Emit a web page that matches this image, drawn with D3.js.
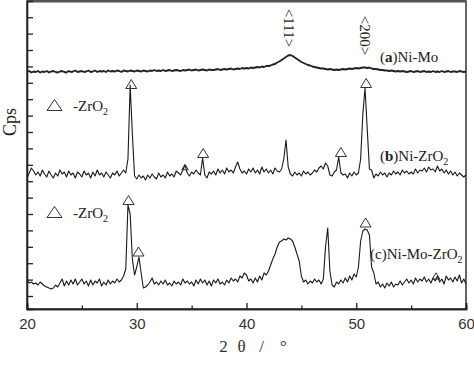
<!DOCTYPE html>
<html><head><meta charset="utf-8">
<script src="https://cdn.jsdelivr.net/npm/d3@7"></script>
<style>
body{margin:0;background:#fff;}
svg{display:block;}
</style></head>
<body>
<svg id="chart" width="474" height="381"></svg>
<script>
// 2θ grid (degrees), 0.2° step
const twoTheta = d3.range(0, 201).map(i => +(20 + i * 0.2).toFixed(1));

// (a) Ni-Mo intensities (arb. Cps)
const seriesA = [
237,238,236.5,237.5,237, 238,236.5,237.5,237,238, 236.5,237.5,238,237,236.5, 237.5,238,237,236.5,238,
237,237.5,238.5,237,237.5, 238,237,237.5,238.5,237, 237.5,238.5,237,238,237.5, 238,237,238.5,237.5,238,
237.5,238.5,238,237,238.5, 238,237.5,238.5,238,237.5, 238.5,238,237.5,238.5,238, 237.5,238.5,238,239,238,
238.5,238,239,238,238.5, 239,238,238.5,239,238.5, 238,239,238.5,239,239.5, 238.5,239,239.5,238.5,239,
239.5,239,238.5,239.5,239, 239,239.5,240,239,239.5, 240,239.5,240,240.5,239.5, 240,240.5,240,241,240.5,
241,240.5,241.5,241,241.5, 242,241.5,242.5,242,243, 243,243.5,244.5,245,246.5, 247.5,249,250.5,252,253.5,
254,253,251.5,250,248.5, 247,246,245,244,243.5, 242.5,242,241.5,241,240.5, 240.5,240,239.5,240,239.5,
239,239.5,239,239.5,240, 239.5,240,240.5,240,240.5, 241,240.5,241,241.5,241.5, 241,241.5,240.5,240,240,
239.5,239,239,238.5,238.5, 238,238.5,238,237.5,238, 237.5,238,237.5,237,237.5, 238,237,237.5,238,237,
237.5,238,237,237.5,237, 238,237,237.5,237,238, 237,237.5,238,237,237.5, 237.5,237,238,237.5,237,
237.5];

// (b) Ni-ZrO2
const seriesB = [
131,136,141,138,134, 137,133,139,135,132, 138,134,131,136,133, 139,135,137,132,138,
134,136,131,137,135, 132,138,134,136,131, 137,133,139,134,136, 132,137,134,131,136,
134,138,133,136,139, 136,150,224,175,133, 130,134,131,133,129, 134,131,135,132,130,
136,132,134,131,137, 133,135,132,138,136, 134,139,144,136,133, 137,135,139,136,134,
151,134,131,137,135, 138,134,140,136,139, 135,141,137,139,136, 142,147,140,136,138,
135,140,137,141,136, 139,135,142,137,140, 136,139,135,141,138, 137,140,150,169,142,
135,133,137,134,136, 133,138,135,137,134, 136,139,137,141,143, 140,146,143,134,133,
137,139,152,136,134, 135,131,136,133,137, 134,136,150,195,221, 180,140,139,131,135,
133,137,134,136,132, 136,134,138,135,137, 134,139,136,138,135, 137,135,140,136,139,
138,141,137,142,139, 140,137,143,138,140, 136,139,135,138,134, 137,133,136,134,132,
134];

// (c) Ni-Mo-ZrO2
const seriesC = [
29,26,27,25,26, 24,27,25,23,22, 21,20,21,24,22, 26,30,23,28,24,
29,25,30,24,27, 30,25,28,23,29, 24,28,26,30,23, 27,24,29,25,28,
26,30,27,29,33, 40,104,95,50,34, 42,52,36,21,22, 24,27,31,25,27,
24,28,25,29,24, 26,23,28,25,27, 24,30,26,28,25, 27,23,29,25,30,
26,29,24,28,23, 29,26,30,25,27, 24,29,26,31,28, 30,27,33,31,36,
34,28,30,26,31, 27,33,29,36,34, 38,44,50,55,62, 67,68,70,69,71,
70,68,62,55,48, 33,27,29,25,28, 26,30,27,29,25, 30,62,81,38,24,
22,27,25,29,26, 31,27,33,29,35, 32,42,68,78,80, 79,74,42,36,25,
27,22,25,21,26, 23,27,22,25,24, 28,24,27,30,26, 29,25,31,27,30,
28,32,27,30,26, 31,28,33,27,30, 25,33,29,31,27, 32,28,34,26,30,
25];

// ZrO2 peak markers: [2θ, intensity, size]
const markersB = [[29.5,225,1],[34.4,142,0.6],[36.05,156,1],[48.6,157,1],[50.9,226,1]];
const markersC = [[29.25,109,1],[30.16,57.5,1],[50.85,86.5,1],[57.27,33,0.7]];

const xTicksMajor = [20,30,40,50,60];
const xTicksMinor = [25,35,45,55];
const yTicks = d3.range(13, 300, 16.4);

const svg = d3.select("#chart");
const L = 27, R = 466, T = 1, B = 309;
const x = d3.scaleLinear().domain([20,60]).range([L,R]);
const y = d3.scaleLinear().domain([0,308]).range([B,T]);

const ink = "#1a1a1a";
const serif = "'Liberation Serif','Times New Roman',serif";
const sans = "'Liberation Sans',Arial,sans-serif";

// frame
svg.append("rect").attr("x",L).attr("y",T).attr("width",R-L).attr("height",B-T)
  .attr("fill","none").attr("stroke","#333").attr("stroke-width",1.5);
svg.append("line").attr("x1",L).attr("x2",R).attr("y1",1).attr("y2",1)
  .attr("stroke","#555").attr("stroke-width",3);

// axes
const gxMaj = svg.append("g").attr("transform",`translate(0,${B})`)
  .call(d3.axisBottom(x).tickValues(xTicksMajor).tickSize(-6).tickPadding(9).tickFormat(d3.format("d")));
const gxMin = svg.append("g").attr("transform",`translate(0,${B})`)
  .call(d3.axisBottom(x).tickValues(xTicksMinor).tickSize(-3.5).tickFormat(""));
const gy = svg.append("g").attr("transform",`translate(${L},0)`)
  .call(d3.axisLeft(y).tickValues(yTicks).tickSize(-6).tickFormat(""));
[gxMaj,gxMin,gy].forEach(g=>{
  g.select(".domain").attr("stroke","#222").attr("stroke-width",1.6);
  g.selectAll(".tick line").attr("stroke","#222").attr("stroke-width",1.3);
});
gxMaj.selectAll(".tick text").attr("font-family",sans).attr("font-size",15).attr("fill","#333");

// series lines
const line = d3.line().x((d,i)=>x(twoTheta[i])).y(d=>y(d));
svg.append("path").datum(seriesA).attr("d",line).attr("fill","none")
  .attr("stroke","#222").attr("stroke-width",1.8).attr("stroke-linejoin","round");
svg.append("path").datum(seriesB).attr("d",line).attr("fill","none")
  .attr("stroke",ink).attr("stroke-width",1.1).attr("stroke-linejoin","round");
svg.append("path").datum(seriesC).attr("d",line).attr("fill","none")
  .attr("stroke",ink).attr("stroke-width",1.1).attr("stroke-linejoin","round");

// triangles
function tri(cx, cy, w, h){
  return `M${cx-w/2},${cy+h/2}L${cx},${cy-h/2}L${cx+w/2},${cy+h/2}Z`;
}
svg.append("g").selectAll("path").data(markersB.concat(markersC)).join("path")
  .attr("d",d=>tri(x(d[0]), y(d[1]), 11*d[2], 9*d[2]))
  .attr("fill","none").attr("stroke","#333").attr("stroke-width",1);

// legends "△ -ZrO2"
[105, 212].forEach(cy=>{
  svg.append("path").attr("d",tri(54.5, cy, 15, 11)).attr("fill","none")
    .attr("stroke","#333").attr("stroke-width",1);
  const t = svg.append("text").attr("x",73).attr("y",cy+6)
    .attr("font-family",serif).attr("font-size",15).attr("fill","#222");
  t.append("tspan").text("-ZrO");
  t.append("tspan").attr("font-size",10).attr("dy",4).text("2");
});

// series labels
function label(xp, yp, letter, rest, sub){
  const t = svg.append("text").attr("x",xp).attr("y",yp)
    .attr("font-family",serif).attr("font-size",15).attr("fill","#222");
  t.append("tspan").text("(");
  t.append("tspan").attr("font-weight", letter==="c" ? "normal" : "bold").text(letter);
  t.append("tspan").text(")" + rest);
  if(sub) t.append("tspan").attr("font-size",10).attr("dy",4).text(sub);
}
label(380, 62, "a", "Ni-Mo", null);
label(380, 161, "b", "Ni-ZrO", "2");
label(370, 259, "c", "Ni-Mo-ZrO", "2");

// rotated reflection indices
[[289,28,"<111>"],[365,35.5,"<200>"]].forEach(([xp,yp,s])=>{
  svg.append("text").attr("transform",`translate(${xp},${yp}) rotate(90)`)
    .attr("text-anchor","middle").attr("dominant-baseline","central")
    .attr("font-family",serif).attr("font-size",15).attr("fill","#222").text(s);
});

// axis titles
svg.append("text").attr("transform","translate(16,122) rotate(-90)")
  .attr("text-anchor","middle").attr("font-family",serif).attr("font-size",18)
  .attr("fill","#222").text("Cps");
[[223.5,"2"],[241.5,"θ"],[261.5,"/"],[283.5,"°"]].forEach(([xp,s])=>{
  svg.append("text").attr("x",xp).attr("y",352).attr("text-anchor","middle")
    .attr("font-family",serif).attr("font-size",17).attr("fill","#333").text(s);
});
</script>
</body></html>
